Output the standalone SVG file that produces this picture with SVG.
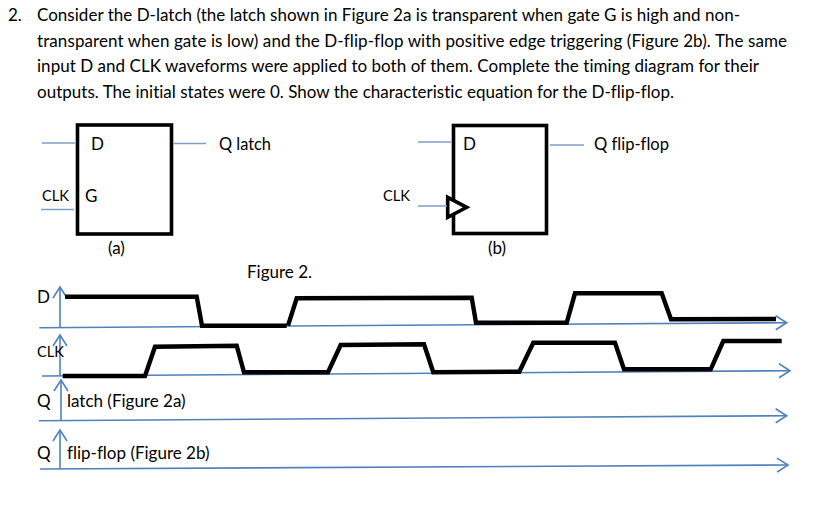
<svg xmlns="http://www.w3.org/2000/svg" width="838" height="523" viewBox="0 0 838 523">
<style>
text{font-family:"Lato","Carlito","Open Sans",sans-serif;font-size:17px;fill:#000;font-variant-ligatures:none}
.clk{font-size:16px}
.box{fill:#fff;stroke:#000;stroke-width:3.6}
.wire{fill:none;stroke:#7f9fc6;stroke-width:1.6}
.axis{fill:none;stroke:#4f81bd;stroke-width:1.6}
.wave{fill:none;stroke:#000;stroke-width:4.4}
</style>
<defs><marker id="a" markerUnits="userSpaceOnUse" markerWidth="14" markerHeight="16" refX="12" refY="8" orient="auto"><path d="M1 1L12 8L1 15" fill="none" stroke="#4f81bd" stroke-width="1.6"/></marker></defs>
<rect width="838" height="523" fill="#fff"/>
<g id="question">
<text x="8" y="21">2.</text>
<text x="37" y="21" textLength="703">Consider the D-latch (the latch shown in Figure 2a is transparent when gate G is high and non-</text>
<text x="37" y="47" textLength="750">transparent when gate is low) and the D-flip-flop with positive edge triggering (Figure 2b).  The same</text>
<text x="37" y="72" textLength="722">input D and CLK waveforms were applied to both of them. Complete the timing diagram for their</text>
<text x="37" y="98" textLength="637">outputs. The initial states were 0. Show the characteristic equation for the D-flip-flop.</text>
</g>
<g id="latch">
<rect class="box" x="77.5" y="125" width="94" height="109"/>
<text x="91" y="150">D</text><text x="85" y="202">G</text>
<text x="108" y="254">(a)</text>
<text x="219" y="150" textLength="52" lengthAdjust="spacingAndGlyphs">Q latch</text><text class="clk" x="42" y="201" textLength="27" lengthAdjust="spacingAndGlyphs">CLK</text>
</g>
<g id="flipflop">
<rect class="box" x="453.5" y="125.5" width="93" height="108"/>
<path d="M447.7 197.3L466.7 207.3L447.7 217.3Z" fill="#fff" stroke="#000" stroke-width="3.6"/>
<text x="463" y="150">D</text>
<text x="488" y="254">(b)</text>
<text x="594" y="150" textLength="75" lengthAdjust="spacingAndGlyphs">Q flip-flop</text><text class="clk" x="383" y="201" textLength="27" lengthAdjust="spacingAndGlyphs">CLK</text>
</g>
<g id="connectors">
<path class="wire" d="M42 143H75M173 143.5H206M41 209.5H74M418 142H451M550 145H584M418 206H447"/>
<path class="axis" marker-end="url(#a)" d="M39.3 327.7L786.7 322.7"/>
<path class="axis" marker-end="url(#a)" d="M42 376L790 370.7"/>
<path class="axis" marker-end="url(#a)" d="M39 420.7L786.7 415.7"/>
<path class="axis" marker-end="url(#a)" d="M40 469L788 465"/>
<path class="axis" marker-end="url(#a)" d="M60 328V287"/>
<path class="axis" marker-end="url(#a)" d="M60 376V335"/>
<path class="axis" marker-end="url(#a)" d="M61 420V380"/>
<path class="axis" marker-end="url(#a)" d="M60 469V430"/>
<path class="wave" d="M65 296.7H196.7L202 325.7H286.7"/>
<path class="wave" d="M288 325.7L296.7 298.3L471.7 297.7L476 322.7H566.7L575 293.3H661.7L671 319.3L776 319"/>
<path class="wave" d="M62.7 376H145L155 346.7L236.7 345.7L244 372.3H328L340.7 345L424 344.3L433.3 372.3L519.3 371.7L533.3 342.7H615L624 369.3H710.7L723.3 341H781.7"/>
</g>
<g id="timing-labels">
<text x="37" y="303">D</text><text class="clk" x="37" y="357" textLength="27" lengthAdjust="spacingAndGlyphs">CLK</text>
<text x="37" y="407">Q</text><text x="67" y="407">latch (Figure 2a)</text>
<text x="37" y="459">Q</text><text x="67" y="459">flip-flop (Figure 2b)</text>
<text x="247" y="278">Figure 2.</text>
</g>
</svg>
